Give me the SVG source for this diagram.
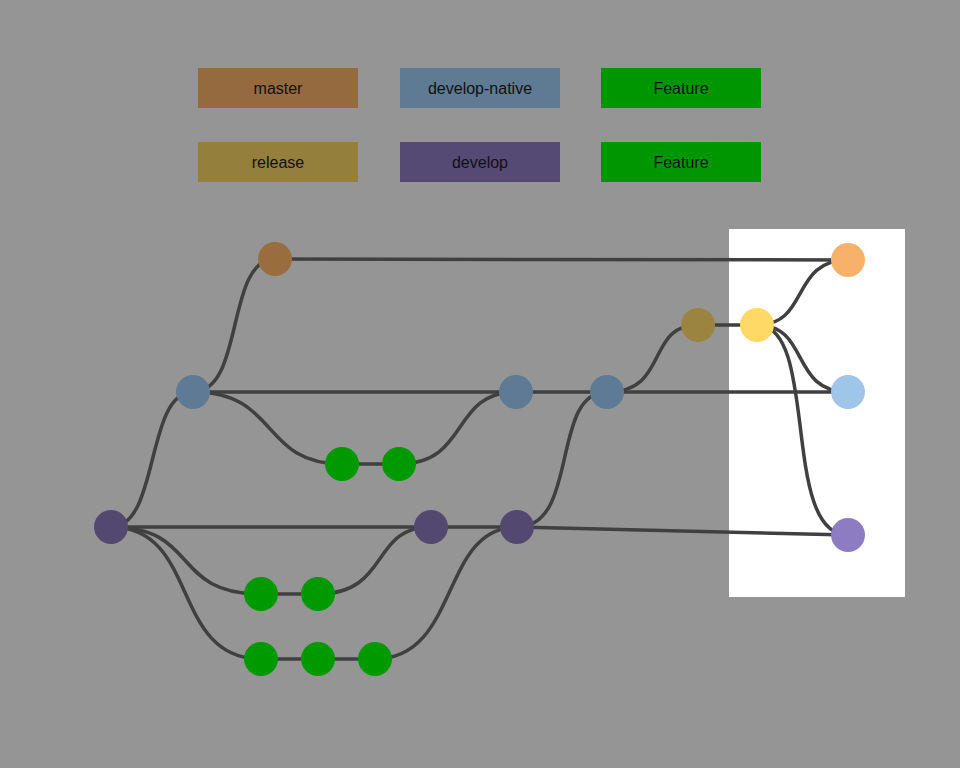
<svg xmlns="http://www.w3.org/2000/svg" width="960" height="768" viewBox="0 0 960 768">
<style>
.lg text{font-family:"Liberation Sans",Arial,sans-serif;font-size:16px;fill:#111;text-anchor:middle}
#connectors path{fill:none;stroke:#404040;stroke-width:3.5}
.n{stroke:none}
</style>
<rect width="960" height="768" fill="#959595"/>
<rect x="729" y="229" width="176" height="368" fill="#ffffff"/>
<g class="lg" id="legend">
<g id="lg-master"><rect x="198" y="68" width="160" height="40" fill="#946a3e"/><text x="278" y="94">master</text></g>
<g id="lg-devnative"><rect x="400" y="68" width="160" height="40" fill="#5f7a93"/><text x="480" y="94">develop-native</text></g>
<g id="lg-feature1"><rect x="601" y="68" width="160" height="40" fill="#009600"/><text x="681" y="94">Feature</text></g>
<g id="lg-release"><rect x="198" y="142" width="160" height="40" fill="#957f3d"/><text x="278" y="168">release</text></g>
<g id="lg-develop"><rect x="400" y="142" width="160" height="40" fill="#544a73"/><text x="480" y="168">develop</text></g>
<g id="lg-feature2"><rect x="601" y="142" width="160" height="40" fill="#009600"/><text x="681" y="168">Feature</text></g>
</g>
<g id="connectors">
<path d="M111 527 C160 527 145 392 193 392"/>
<path d="M193 392 C245 392 225 259 275 259"/>
<path d="M275 259 L848 260"/>
<path d="M193 392 L848 392"/>
<path d="M193 392 C280 392 260 464 342 464 L399 464 C470 464 450 392 516 392"/>
<path d="M111 527 L517 527 L848 535"/>
<path d="M111 527 C200 527 170 594 261 594 L318 594 C390 594 370 527 431 527"/>
<path d="M111 527 C200 527 170 659 261 659 L375 659 C460 659 440 527 517 527"/>
<path d="M517 527 C580 527 550 392 607 392"/>
<path d="M607 392 C670 392 645 325 698 325 L757 325"/>
<path d="M757 325 C810 325 790 260 848 260"/>
<path d="M757 325 C810 325 790 392 848 392"/>
<path d="M757 325 C820 325 780 535 848 535"/>
</g>
<g id="nodes">
<circle id="d0" class="n" cx="111" cy="527" r="17" fill="#534870"/>
<circle id="n1" class="n" cx="193" cy="392" r="17" fill="#5f7a94"/>
<circle id="m1" class="n" cx="275" cy="259" r="17" fill="#9a6d3f"/>
<circle id="f1" class="n" cx="342" cy="464" r="17" fill="#009900"/>
<circle id="f2" class="n" cx="399" cy="464" r="17" fill="#009900"/>
<circle id="n2" class="n" cx="516" cy="392" r="17" fill="#5f7a94"/>
<circle id="n3" class="n" cx="607" cy="392" r="17" fill="#5f7a94"/>
<circle id="r1" class="n" cx="698" cy="325" r="17" fill="#9a8440"/>
<circle id="y1" class="n" cx="757" cy="325" r="17" fill="#ffd966"/>
<circle id="o1" class="n" cx="848" cy="260" r="17" fill="#f6b26b"/>
<circle id="b1" class="n" cx="848" cy="392" r="17" fill="#9fc5e8"/>
<circle id="p1" class="n" cx="848" cy="535" r="17" fill="#8e7cc3"/>
<circle id="d1" class="n" cx="431" cy="527" r="17" fill="#534870"/>
<circle id="d2" class="n" cx="517" cy="527" r="17" fill="#534870"/>
<circle id="g1" class="n" cx="261" cy="594" r="17" fill="#009900"/>
<circle id="g2" class="n" cx="318" cy="594" r="17" fill="#009900"/>
<circle id="g3" class="n" cx="261" cy="659" r="17" fill="#009900"/>
<circle id="g4" class="n" cx="318" cy="659" r="17" fill="#009900"/>
<circle id="g5" class="n" cx="375" cy="659" r="17" fill="#009900"/>
</g>
</svg>
